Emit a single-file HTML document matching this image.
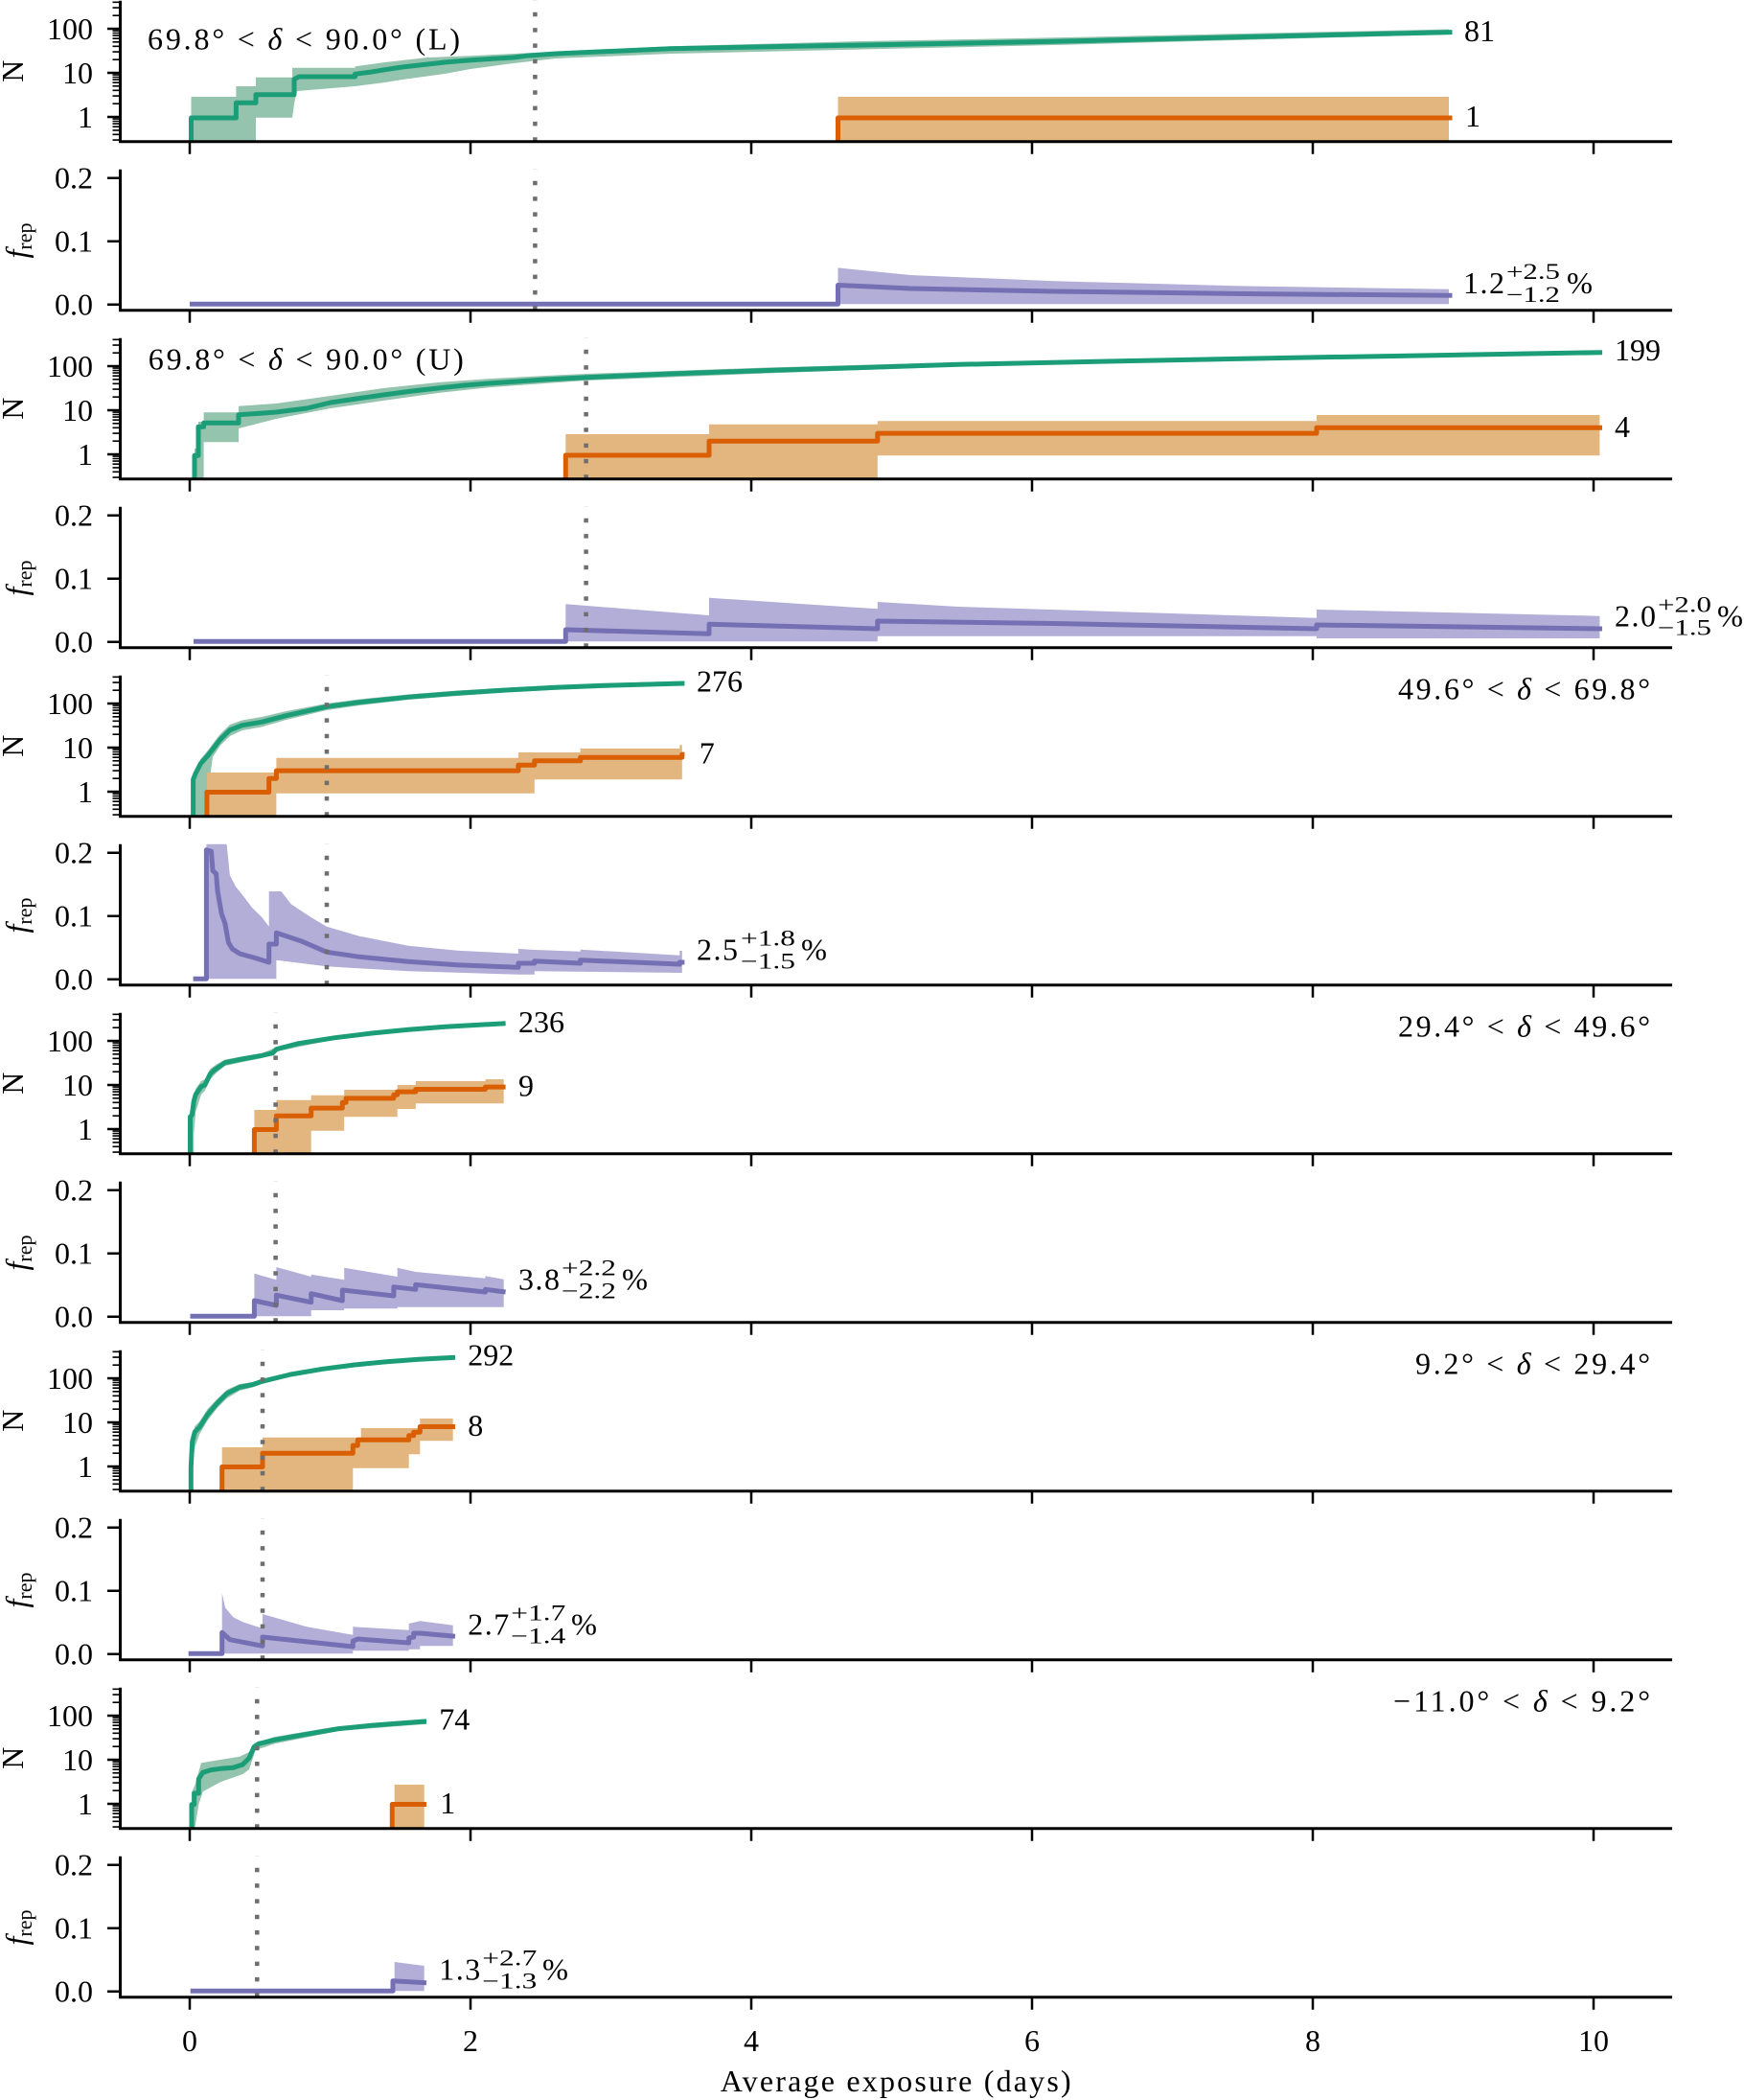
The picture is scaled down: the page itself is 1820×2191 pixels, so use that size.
<!DOCTYPE html>
<html>
<head>
<meta charset="utf-8">
<style>
html,body{margin:0;padding:0;background:#fff;}
svg{display:block;}
text{font-family:"Liberation Serif","DejaVu Serif",serif;fill:#000;}
</style>
</head>
<body>
<svg width="1820" height="2191" viewBox="0 0 1820 2191" xmlns="http://www.w3.org/2000/svg">
<defs>
  <g id="axN" fill="none" stroke="#000">
    <path d="M125.5,0 V147 H1745" stroke-width="3"/>
    <path d="M198,147v13 M491,147v13 M784,147v13 M1077,147v13 M1370,147v13 M1663,147v13" stroke-width="2.5"/>
    <path d="M112,29.3H125 M112,75.3H125 M112,121.3H125" stroke-width="2.5"/>
    <path d="M117.5,1.6H125 M117.5,7.4H125 M117.5,15.5H125 M117.5,31.4H125 M117.5,33.8H125 M117.5,36.4H125 M117.5,39.5H125 M117.5,43.1H125 M117.5,47.6H125 M117.5,53.4H125 M117.5,61.5H125 M117.5,77.4H125 M117.5,79.8H125 M117.5,82.4H125 M117.5,85.5H125 M117.5,89.1H125 M117.5,93.6H125 M117.5,99.4H125 M117.5,107.5H125 M117.5,123.4H125 M117.5,125.8H125 M117.5,128.4H125 M117.5,131.5H125 M117.5,135.2H125 M117.5,139.6H125 M117.5,145.4H125" stroke-width="1.6"/>
  </g>
  <g id="axF" fill="none" stroke="#000">
    <path d="M125.5,0 V147 H1745" stroke-width="3"/>
    <path d="M198,147v13 M491,147v13 M784,147v13 M1077,147v13 M1370,147v13 M1663,147v13" stroke-width="2.5"/>
    <path d="M112,9H125 M112,75H125 M112,141H125" stroke-width="2.5"/>
  </g>
  <clipPath id="c0"><rect x="126" y="0.7" width="1619" height="146"/></clipPath>
  <clipPath id="c1"><rect x="126" y="176.7" width="1619" height="146"/></clipPath>
  <clipPath id="c2"><rect x="126" y="352.7" width="1619" height="146"/></clipPath>
  <clipPath id="c3"><rect x="126" y="528.7" width="1619" height="146"/></clipPath>
  <clipPath id="c4"><rect x="126" y="704.7" width="1619" height="146"/></clipPath>
  <clipPath id="c5"><rect x="126" y="880.7" width="1619" height="146"/></clipPath>
  <clipPath id="c6"><rect x="126" y="1056.7" width="1619" height="146"/></clipPath>
  <clipPath id="c7"><rect x="126" y="1232.7" width="1619" height="146"/></clipPath>
  <clipPath id="c8"><rect x="126" y="1408.7" width="1619" height="146"/></clipPath>
  <clipPath id="c9"><rect x="126" y="1584.7" width="1619" height="146"/></clipPath>
  <clipPath id="c10"><rect x="126" y="1760.7" width="1619" height="146"/></clipPath>
  <clipPath id="c11"><rect x="126" y="1936.7" width="1619" height="146"/></clipPath>
</defs>

<!-- ===== Panel 1 (N, L) ===== -->
<g clip-path="url(#c0)">
  <path fill="#94c3ae" d="M199.5,101 H246.4 V90 H267 V80.7 H305 V70.7 H370.5 V69.3 L401.8,65 L446,60 L491,58.3 L535.7,56 L700,48.3 L900,43 L1100,39.3 L1512,30.5 V36 L1100,47 L900,51.5 L700,56 L580,61 L535.7,66 L491,72 L464,77 L420,83 L401.8,86 L370.5,90 L310,95 L307,108 L305,122.7 H267 V150 H199.5 Z"/>
  <path fill="none" stroke="#1b9e77" stroke-width="5" stroke-linejoin="round" d="M199.5,152 V123 H246.4 V107.3 H267 V98.7 H307 V82.7 L312,80 H370.5 V77.3 L388,75 L401.8,72.7 L419.6,70 L464,65 L491,62.7 L535.7,60 L549,58.3 L580,56 L700,50.7 L900,47 L1100,43.3 L1300,38.5 L1515.5,33.6"/>
  <path fill="#e3b57f" d="M874.5,101 H1512 V150 H874.5 Z"/>
  <path fill="none" stroke="#d95f02" stroke-width="5" stroke-linejoin="round" d="M874.5,152 V123 H1515.5"/>
  <path stroke="#6e6e6e" stroke-width="4.5" stroke-dasharray="4.5 11.8" stroke-dashoffset="4.2" d="M558.4,0.7 V147.7"/>
</g>
<use href="#axN" y="0.7"/>
<g transform="translate(0,0.7)" font-size="32" text-anchor="end">
  <text x="97" y="40.3">100</text><text x="97" y="86.3">10</text><text x="97" y="132.3">1</text>
</g>
<text x="24" y="74.2" font-size="32" text-anchor="middle" transform="rotate(-90 24 74.2)">N</text>
<text x="154" y="51.5" font-size="32" textLength="326">69.8° &lt; <tspan font-style="italic">δ</tspan> &lt; 90.0° (L)</text>
<text x="1528" y="43" font-size="32">81</text>
<text x="1529" y="132" font-size="32">1</text>

<!-- ===== Panel 2 (f, L) ===== -->
<g clip-path="url(#c1)">
  <path fill="#b2aed7" d="M874.5,279.4 L950,287 L1100,293.3 L1300,298.5 L1512,301.7 V317.2 H874.5 Z"/>
  <path fill="none" stroke="#7570b3" stroke-width="5" stroke-linejoin="round" d="M198,317.2 H874.5 V297.5 L950,301 L1100,304 L1300,306.5 L1515.5,308.3"/>
  <path stroke="#6e6e6e" stroke-width="4.5" stroke-dasharray="4.5 11.8" stroke-dashoffset="4.2" d="M558.4,176.7 V323.7"/>
</g>
<use href="#axF" y="176.7"/>
<g transform="translate(0,176.7)" font-size="32" text-anchor="end">
  <text x="97" y="20">0.2</text><text x="97" y="86">0.1</text><text x="97" y="152">0.0</text>
</g>
<text x="28" y="251" font-size="32" text-anchor="middle" transform="rotate(-90 28 251)"><tspan font-style="italic">f</tspan><tspan font-size="22" dy="5">rep</tspan></text>
<g>
  <text x="1527" y="306" font-size="32" textLength="43">1.2</text>
  <text x="1572" y="291" font-size="23" textLength="56" lengthAdjust="spacingAndGlyphs">+2.5</text>
  <text x="1572" y="315" font-size="23" textLength="56" lengthAdjust="spacingAndGlyphs">−1.2</text>
  <text x="1635" y="306" font-size="32" textLength="27" lengthAdjust="spacingAndGlyphs">%</text>
</g>

<!-- ===== Panel 3 (N, U) ===== -->
<g clip-path="url(#c2)">
  <path fill="#94c3ae" d="M203,500 V468 H207 V440 H212.6 V430.3 H249 V423.7 L288,421 L345,413 L400,405 L457,399 L513,395 L569,392 L612,390 L800,383.5 L1000,378 L1168,374.7 L1336,371.5 L1504,368.7 L1672,366 V369.5 L1504,372.6 L1336,375.5 L1168,378.7 L1000,382.5 L800,389.5 L612,397 L569,400 L513,404 L457,410 L400,418 L345,426 L288,437 L249,447 V461.3 H212.6 V500 Z"/>
  <path fill="none" stroke="#1b9e77" stroke-width="5" stroke-linejoin="round" d="M203,503 V475.3 H207 V445.3 H212.6 V441.3 H249 V432.7 L268,431.5 L288,430 L320,426 L345,420 L372,416 L400,412 L430,408 L457,405 L485,402 L513,399.7 L569,396 L612,393.7 L700,390 L800,386.5 L900,383.5 L1000,380.3 L1168,376.7 L1336,373.5 L1504,370.6 L1672,367.7"/>
  <path fill="#e3b57f" d="M590.3,453 H740 V442.7 H915.8 V439.3 H1374 V433 H1669.4 V475.3 H915.8 V503 H590.3 Z"/>
  <path fill="none" stroke="#d95f02" stroke-width="5" stroke-linejoin="round" d="M590.3,503 V475 H740 V460.2 H915.8 V452.1 H1374 V446.3 H1672"/>
  <path stroke="#6e6e6e" stroke-width="4.5" stroke-dasharray="4.5 11.8" stroke-dashoffset="4.2" d="M611.6,352.7 V499.7"/>
</g>
<use href="#axN" y="352.7"/>
<g transform="translate(0,352.7)" font-size="32" text-anchor="end">
  <text x="97" y="40.3">100</text><text x="97" y="86.3">10</text><text x="97" y="132.3">1</text>
</g>
<text x="24" y="426.2" font-size="32" text-anchor="middle" transform="rotate(-90 24 426.2)">N</text>
<text x="154.8" y="385.3" font-size="32" textLength="329">69.8° &lt; <tspan font-style="italic">δ</tspan> &lt; 90.0° (U)</text>
<text x="1685" y="376" font-size="32">199</text>
<text x="1685" y="456" font-size="32">4</text>

<!-- ===== Panel 4 (f, U) ===== -->
<g clip-path="url(#c3)">
  <path fill="#b2aed7" d="M590.3,630.3 L740,642 V623.7 L915.8,635.3 V628 L1000,633 L1374,644.7 V636 L1669.4,642.7 V666 H1374 V663.7 H915.8 V669.2 H590.3 Z"/>
  <path fill="none" stroke="#7570b3" stroke-width="5" stroke-linejoin="round" d="M202,669.2 H590.3 V657 L740,661.3 V651.3 L915.8,656 V648 L1100,650.5 L1374,656 V652 L1672,656"/>
  <path stroke="#6e6e6e" stroke-width="4.5" stroke-dasharray="4.5 11.8" stroke-dashoffset="4.2" d="M611.6,528.7 V675.7"/>
</g>
<use href="#axF" y="528.7"/>
<g transform="translate(0,528.7)" font-size="32" text-anchor="end">
  <text x="97" y="20">0.2</text><text x="97" y="86">0.1</text><text x="97" y="152">0.0</text>
</g>
<text x="28" y="603" font-size="32" text-anchor="middle" transform="rotate(-90 28 603)"><tspan font-style="italic">f</tspan><tspan font-size="22" dy="5">rep</tspan></text>
<g>
  <text x="1685" y="653.7" font-size="32" textLength="43">2.0</text>
  <text x="1730" y="638.7" font-size="23" textLength="56" lengthAdjust="spacingAndGlyphs">+2.0</text>
  <text x="1730" y="662.7" font-size="23" textLength="56" lengthAdjust="spacingAndGlyphs">−1.5</text>
  <text x="1792" y="653.7" font-size="32" textLength="27" lengthAdjust="spacingAndGlyphs">%</text>
</g>

<!-- ===== Panel 5 (N, 49.6-69.8) ===== -->
<g clip-path="url(#c4)">
  <path fill="#94c3ae" d="M201.6,853 V826.7 L204,805 L209.3,792 L216.9,783 L222,776 L229.7,766 L239.9,756 L252.7,751.5 L273,748 L298.6,742 L340.9,734 L375.1,729.5 L426.1,724.5 L477.1,720.5 L528.2,717.5 L579.2,715 L630.2,713 L714.4,710.5 V715 L630.2,717.7 L579.2,719.7 L528.2,722.5 L477.1,726 L426.1,730 L375.1,736 L340.9,741 L298.6,751 L273,758.5 L252.7,762 L239.9,768 L229.7,778 L222,790 L216.9,826.7 V853 Z"/>
  <path fill="none" stroke="#1b9e77" stroke-width="5" stroke-linejoin="round" d="M201.6,855 V813.3 L204.2,806.7 L209.3,796.7 L216.9,788.3 L222,781.7 L229.7,771.7 L239.9,761.7 L252.7,756.7 L273,753.3 L298.6,746.7 L340.9,737.3 L375.1,732.7 L426.1,727.3 L477.1,723.3 L528.2,720 L579.2,717.3 L630.2,715.3 L714.4,713"/>
  <path fill="#e3b57f" d="M215.9,806 H288.4 V790.7 H540.9 V785 H605.7 V781 H709.3 V777.3 H711.8 V813.3 H557.8 V827.7 H288.4 V855 H215.9 Z"/>
  <path fill="none" stroke="#d95f02" stroke-width="5" stroke-linejoin="round" d="M215.9,855 V826.5 H280.7 V812.2 H288.4 V804.1 H540.9 V798.3 H557.8 V793.8 H605.7 V790.2 H711.8 V787.1 H714.4"/>
  <path stroke="#6e6e6e" stroke-width="4.5" stroke-dasharray="4.5 11.8" stroke-dashoffset="4.2" d="M341,704.7 V851.7"/>
</g>
<use href="#axN" y="704.7"/>
<g transform="translate(0,704.7)" font-size="32" text-anchor="end">
  <text x="97" y="40.3">100</text><text x="97" y="86.3">10</text><text x="97" y="132.3">1</text>
</g>
<text x="24" y="778.2" font-size="32" text-anchor="middle" transform="rotate(-90 24 778.2)">N</text>
<text x="1459" y="729.3" font-size="32" textLength="263">49.6° &lt; <tspan font-style="italic">δ</tspan> &lt; 69.8°</text>
<text x="727" y="721.7" font-size="32">276</text>
<text x="729.7" y="796.7" font-size="32">7</text>

<!-- ===== Panel 6 (f) ===== -->
<g clip-path="url(#c5)">
  <path fill="#b2aed7" d="M215.4,878 H236.3 L239.9,913.3 L246,925 L252.7,933.3 L262.9,946.7 L273.1,956.7 L280.7,966.7 V930 H293.5 L303.7,943.3 L324.1,956.7 L340.9,966.7 L375.1,976.7 L426.1,986.7 L477.1,991.7 L540.9,995 V990 L557.8,991 L605.7,992.7 V990.7 L709.3,996.7 V992 H711.8 V1015 L557.8,1013.3 V1016.7 H540.9 L426.1,1013.3 L340.9,1008.3 L288.4,1001.7 V1021.2 H215.4 Z"/>
  <path fill="none" stroke="#7570b3" stroke-width="5" stroke-linejoin="round" d="M201.6,1021.2 H215.4 V886.7 L220.5,888.3 L222,908.3 L225.6,911.7 L227.1,930 L231.2,953.3 L234.8,963.3 L238.4,983.3 L242.4,990 L250.1,995 L268,1000 L280.7,1004 V985 H288.4 V973.3 L313.9,981.7 L340.9,993.3 L375.1,998.3 L426.1,1003.3 L477.1,1006.7 L540.9,1009.3 V1005 H557.8 V1002.7 L605.7,1005 V1001.7 L709.3,1006 V1004 H714.4"/>
  <path stroke="#6e6e6e" stroke-width="4.5" stroke-dasharray="4.5 11.8" stroke-dashoffset="4.2" d="M341,880.7 V1027.7"/>
</g>
<use href="#axF" y="880.7"/>
<g transform="translate(0,880.7)" font-size="32" text-anchor="end">
  <text x="97" y="20">0.2</text><text x="97" y="86">0.1</text><text x="97" y="152">0.0</text>
</g>
<text x="28" y="955" font-size="32" text-anchor="middle" transform="rotate(-90 28 955)"><tspan font-style="italic">f</tspan><tspan font-size="22" dy="5">rep</tspan></text>
<g>
  <text x="727" y="1001.7" font-size="32" textLength="43">2.5</text>
  <text x="773" y="986.7" font-size="23" textLength="57" lengthAdjust="spacingAndGlyphs">+1.8</text>
  <text x="773" y="1010.7" font-size="23" textLength="57" lengthAdjust="spacingAndGlyphs">−1.5</text>
  <text x="836" y="1001.7" font-size="32" textLength="27" lengthAdjust="spacingAndGlyphs">%</text>
</g>

<!-- ===== Panel 7 (N, 29.4-49.6) ===== -->
<g clip-path="url(#c6)">
  <path fill="#94c3ae" d="M198.5,1206 V1165 L200.4,1160 L202.3,1142 L204.2,1136 L209.9,1128 L213.8,1126 L219.5,1115 L225.2,1111 L234.8,1105.5 L253.9,1102 L273.1,1099 L288.4,1092.5 L349.6,1081 L426.2,1073 L527.6,1066.3 V1069.2 L426.2,1075.7 L349.6,1084.5 L288.4,1097 L273.1,1104 L253.9,1108 L234.8,1112 L225.2,1120 L219.5,1126 L213.8,1138 L209.9,1142 L204.2,1160 L202.3,1183 V1206 Z"/>
  <path fill="none" stroke="#1b9e77" stroke-width="5" stroke-linejoin="round" d="M198.5,1207 V1165.3 L200.4,1163 L202.3,1148.7 L204.2,1142 L209.9,1133.7 L213.8,1132 L219.5,1120.3 L225.2,1115.3 L234.8,1108.7 L253.9,1104.7 L273.1,1101.3 L284.6,1098.7 L288.4,1094.7 L311.4,1088.7 L349.6,1082.7 L387.9,1078 L426.2,1074.3 L464.4,1071.3 L527.6,1067.7"/>
  <path fill="#e3b57f" d="M265.4,1158 H288.4 V1147.7 H324.7 V1142.7 H359.2 V1137 H414.7 V1132 H433.8 V1128 H506.5 V1126 H525.7 V1151.3 H433.8 V1157 H414.7 V1165.3 H359.2 V1179.7 H324.7 V1207 H265.4 Z"/>
  <path fill="none" stroke="#d95f02" stroke-width="5" stroke-linejoin="round" d="M265.4,1207 V1178.5 H288.4 V1164.2 H324.7 V1156.1 H357.3 V1150.3 H361.1 V1145.9 H410.9 V1142.2 H414.7 V1139.1 H433.8 V1136.5 H506.5 V1134.1 H527.6"/>
  <path stroke="#6e6e6e" stroke-width="4.5" stroke-dasharray="4.5 11.8" stroke-dashoffset="4.2" d="M287.6,1056.7 V1203.7"/>
</g>
<use href="#axN" y="1056.7"/>
<g transform="translate(0,1056.7)" font-size="32" text-anchor="end">
  <text x="97" y="40.3">100</text><text x="97" y="86.3">10</text><text x="97" y="132.3">1</text>
</g>
<text x="24" y="1130.2" font-size="32" text-anchor="middle" transform="rotate(-90 24 1130.2)">N</text>
<text x="1459" y="1081.3" font-size="32" textLength="263">29.4° &lt; <tspan font-style="italic">δ</tspan> &lt; 49.6°</text>
<text x="541" y="1077" font-size="32">236</text>
<text x="541" y="1143.7" font-size="32">9</text>

<!-- ===== Panel 8 (f) ===== -->
<g clip-path="url(#c7)">
  <path fill="#b2aed7" d="M265.4,1328.7 L288.4,1335.3 V1322 L324.7,1332 V1329.7 L359.2,1335.3 V1322.7 L414.7,1332 V1322.7 L433.8,1327 L506.5,1333.7 V1331.3 L525.7,1334.7 V1363.7 H414.7 V1365.3 H359.2 V1367 H324.7 V1373.2 H265.4 Z"/>
  <path fill="none" stroke="#7570b3" stroke-width="5" stroke-linejoin="round" d="M198.5,1373.2 H265.4 V1357 L288.4,1362 V1351.3 L324.7,1358.7 V1349.7 L357.3,1357 V1346 L410.9,1352 V1342.7 L433.8,1345.3 V1340.3 L506.5,1348 V1345.3 L527.6,1348"/>
  <path stroke="#6e6e6e" stroke-width="4.5" stroke-dasharray="4.5 11.8" stroke-dashoffset="4.2" d="M287.6,1232.7 V1379.7"/>
</g>
<use href="#axF" y="1232.7"/>
<g transform="translate(0,1232.7)" font-size="32" text-anchor="end">
  <text x="97" y="20">0.2</text><text x="97" y="86">0.1</text><text x="97" y="152">0.0</text>
</g>
<text x="28" y="1307" font-size="32" text-anchor="middle" transform="rotate(-90 28 1307)"><tspan font-style="italic">f</tspan><tspan font-size="22" dy="5">rep</tspan></text>
<g>
  <text x="541" y="1345.3" font-size="32" textLength="43">3.8</text>
  <text x="586" y="1330.3" font-size="23" textLength="57" lengthAdjust="spacingAndGlyphs">+2.2</text>
  <text x="586" y="1354.3" font-size="23" textLength="57" lengthAdjust="spacingAndGlyphs">−2.2</text>
  <text x="649" y="1345.3" font-size="32" textLength="27" lengthAdjust="spacingAndGlyphs">%</text>
</g>

<!-- ===== Panel 9 (N, 9.2-29.4) ===== -->
<g clip-path="url(#c8)">
  <path fill="#94c3ae" d="M199.3,1558 V1525 L200.7,1498 L203.3,1488 L208.3,1483 L216.7,1470 L226.7,1459.5 L236.7,1450 L250,1444 L263.3,1442 L273.3,1439 L303.3,1432 L370,1422.5 L475,1415 V1417.7 L370,1425.5 L303.3,1436 L273.3,1444 L263.3,1447.5 L250,1451 L236.7,1459 L226.7,1469 L216.7,1482 L208.3,1496 L203.3,1510 L200.7,1530 V1558 Z"/>
  <path fill="none" stroke="#1b9e77" stroke-width="5" stroke-linejoin="round" d="M199.3,1559 V1530.7 L200.7,1504 L203.3,1494 L208.3,1489 L216.7,1475.7 L226.7,1464 L236.7,1454 L250,1447.3 L263.3,1444.7 L273.3,1441.3 L303.3,1434 L336.7,1428.3 L370,1424 L403.3,1420.7 L436.7,1418.3 L475,1416.3"/>
  <path fill="#e3b57f" d="M231.7,1510 H274 V1499.7 H376.7 V1490 H438.3 V1480 H472.7 V1503.3 H438.3 V1517.3 H426.7 V1531.7 H368.3 V1559 H231.7 Z"/>
  <path fill="none" stroke="#d95f02" stroke-width="5" stroke-linejoin="round" d="M231.7,1559 V1530.5 H274 V1516.2 H368.3 V1508.1 H373.3 V1502.3 H426.7 V1497.8 H431.7 V1494.2 H438.3 V1488.5 H475"/>
  <path stroke="#6e6e6e" stroke-width="4.5" stroke-dasharray="4.5 11.8" stroke-dashoffset="4.2" d="M274,1408.7 V1555.7"/>
</g>
<use href="#axN" y="1408.7"/>
<g transform="translate(0,1408.7)" font-size="32" text-anchor="end">
  <text x="97" y="40.3">100</text><text x="97" y="86.3">10</text><text x="97" y="132.3">1</text>
</g>
<text x="24" y="1482.2" font-size="32" text-anchor="middle" transform="rotate(-90 24 1482.2)">N</text>
<text x="1477" y="1433.3" font-size="32" textLength="245">9.2° &lt; <tspan font-style="italic">δ</tspan> &lt; 29.4°</text>
<text x="488.3" y="1424.7" font-size="32">292</text>
<text x="488.3" y="1498" font-size="32">8</text>

<!-- ===== Panel 10 (f) ===== -->
<g clip-path="url(#c9)">
  <path fill="#b2aed7" d="M231.7,1662.3 L235,1677.3 L243.3,1687.3 L253.3,1692.3 L274,1699 V1684 L320,1697.3 L368.3,1705.7 V1697.3 L426.7,1700.7 V1694 L438.3,1691.3 L472.7,1695.7 V1717.3 H438.3 V1720.7 H426.7 V1722.3 H368.3 V1725.2 H231.7 Z"/>
  <path fill="none" stroke="#7570b3" stroke-width="5" stroke-linejoin="round" d="M196.7,1725.2 H231.7 V1703.3 L240,1710.7 L274,1717.3 V1708 L368.3,1718 V1712.3 L373.3,1710 L426.7,1714 V1709 L431.7,1708 V1704 L438.3,1704 L475,1707.3"/>
  <path stroke="#6e6e6e" stroke-width="4.5" stroke-dasharray="4.5 11.8" stroke-dashoffset="4.2" d="M274,1584.7 V1731.7"/>
</g>
<use href="#axF" y="1584.7"/>
<g transform="translate(0,1584.7)" font-size="32" text-anchor="end">
  <text x="97" y="20">0.2</text><text x="97" y="86">0.1</text><text x="97" y="152">0.0</text>
</g>
<text x="28" y="1659" font-size="32" text-anchor="middle" transform="rotate(-90 28 1659)"><tspan font-style="italic">f</tspan><tspan font-size="22" dy="5">rep</tspan></text>
<g>
  <text x="488.3" y="1705.7" font-size="32" textLength="43">2.7</text>
  <text x="533.3" y="1690.7" font-size="23" textLength="57" lengthAdjust="spacingAndGlyphs">+1.7</text>
  <text x="533.3" y="1714.7" font-size="23" textLength="57" lengthAdjust="spacingAndGlyphs">−1.4</text>
  <text x="596" y="1705.7" font-size="32" textLength="27" lengthAdjust="spacingAndGlyphs">%</text>
</g>

<!-- ===== Panel 11 (N, -11.0-9.2) ===== -->
<g clip-path="url(#c10)">
  <path fill="#94c3ae" d="M200,1910 V1870 L203.3,1862.7 L210,1839.3 L230,1836 L250,1832.7 L260,1828 L265,1819.3 L286.7,1812 L353.3,1801 L445,1793.3 V1798.7 L353.3,1806 L286.7,1819.3 L266.7,1826 L260,1846 L253.3,1851 L230,1859.3 L211.7,1869.3 L207.3,1882.7 L203,1910 Z"/>
  <path fill="none" stroke="#1b9e77" stroke-width="5" stroke-linejoin="round" d="M200,1911 V1882.7 H202.7 V1871 H207.3 V1856 L211.7,1849.3 L220,1846.7 L230,1845.3 L243.3,1844.3 L253.3,1841 L260,1834.3 L265,1822.7 L270,1819.3 L286.7,1815.3 L320,1809.3 L353.3,1803.7 L386.7,1800.3 L420,1797.7 L445,1796"/>
  <path fill="#e3b57f" d="M411.7,1862 H442.7 V1911 H411.7 Z"/>
  <path fill="none" stroke="#d95f02" stroke-width="5" stroke-linejoin="round" d="M409.3,1911 V1882.5 H445"/>
  <path stroke="#6e6e6e" stroke-width="4.5" stroke-dasharray="4.5 11.8" stroke-dashoffset="4.2" d="M268.3,1760.7 V1907.7"/>
</g>
<use href="#axN" y="1760.7"/>
<g transform="translate(0,1760.7)" font-size="32" text-anchor="end">
  <text x="97" y="40.3">100</text><text x="97" y="86.3">10</text><text x="97" y="132.3">1</text>
</g>
<text x="24" y="1834.2" font-size="32" text-anchor="middle" transform="rotate(-90 24 1834.2)">N</text>
<text x="1454" y="1785.3" font-size="32" textLength="268">−11.0° &lt; <tspan font-style="italic">δ</tspan> &lt; 9.2°</text>
<text x="458.3" y="1804.3" font-size="32">74</text>
<text x="459.3" y="1892" font-size="32">1</text>

<!-- ===== Panel 12 (f) ===== -->
<g clip-path="url(#c11)">
  <path fill="#b2aed7" d="M411.7,2047 L442.7,2051 V2077.2 H411.7 Z"/>
  <path fill="none" stroke="#7570b3" stroke-width="5" stroke-linejoin="round" d="M198.7,2077.2 H410 V2066.7 L445,2068.7"/>
  <path stroke="#6e6e6e" stroke-width="4.5" stroke-dasharray="4.5 11.8" stroke-dashoffset="4.2" d="M268.3,1936.7 V2083.7"/>
</g>
<use href="#axF" y="1936.7"/>
<g transform="translate(0,1936.7)" font-size="32" text-anchor="end">
  <text x="97" y="20">0.2</text><text x="97" y="86">0.1</text><text x="97" y="152">0.0</text>
</g>
<text x="28" y="2011" font-size="32" text-anchor="middle" transform="rotate(-90 28 2011)"><tspan font-style="italic">f</tspan><tspan font-size="22" dy="5">rep</tspan></text>
<g>
  <text x="458.3" y="2065.3" font-size="32" textLength="43">1.3</text>
  <text x="503.3" y="2050.3" font-size="23" textLength="57" lengthAdjust="spacingAndGlyphs">+2.7</text>
  <text x="503.3" y="2074.3" font-size="23" textLength="57" lengthAdjust="spacingAndGlyphs">−1.3</text>
  <text x="566" y="2065.3" font-size="32" textLength="27" lengthAdjust="spacingAndGlyphs">%</text>
</g>

<!-- X axis tick labels and label -->
<g font-size="32" text-anchor="middle">
  <text x="198" y="2140">0</text>
  <text x="491" y="2140">2</text>
  <text x="784" y="2140">4</text>
  <text x="1077" y="2140">6</text>
  <text x="1370" y="2140">8</text>
  <text x="1663" y="2140">10</text>
</g>
<text x="751.7" y="2182" font-size="32" textLength="366">Average exposure (days)</text>
</svg>
</body>
</html>
